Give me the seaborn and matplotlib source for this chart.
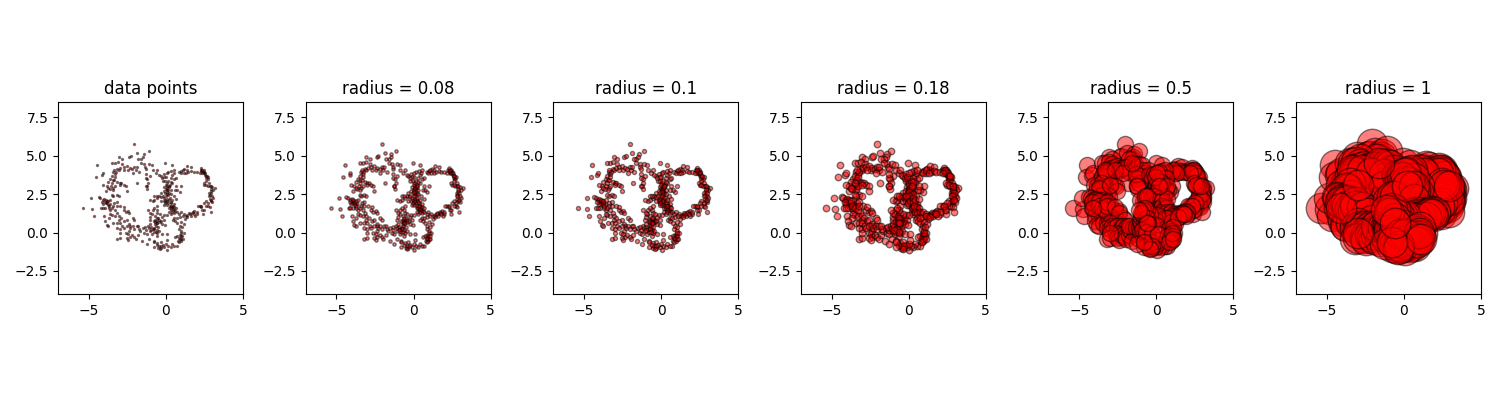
import numpy as np
import matplotlib
matplotlib.use("Agg")
import matplotlib.pyplot as plt
import seaborn as sns

titles = ["data points", "radius = 0.08", "radius = 0.1", "radius = 0.18", "radius = 0.5", "radius = 1"]
marker_sizes = [2, 5.5, 8.5, 22, 135, 480]

far_left = [(-5.38,1.6),(-4.78,1.53),(-4.67,1.08),(-4.84,2.28),(-4.47,4.4),(-4.56,3.6),(-4.15,3.75),(-4.1,3.85),
            (-2.05,5.74),(-3.05,4.94),(-2.38,4.9),(-2.29,5.0),(-1.88,5.16),(-1.43,5.1),(-1.49,4.9),(-1.6,4.77),
            (-1.12,5.31),(-1.79,4.77),(-2.85,4.77),(-0.05,4.5),(0.4,4.4)]
left_arc = [(-3.5,4.5),(-3.3,4.55),(-3.1,4.6),(-2.85,4.45),(-3.4,3.95),(-3.3,3.8),(-3.15,4.15),(-3.05,4.05),(-2.95,4.2),
            (-2.75,4.25),(-2.55,4.35),(-2.45,4.1),(-2.35,4.2),(-2.2,4.15),(-2.05,4.3),(-1.95,4.1),(-1.9,4.25),(-1.75,3.95),
            (-1.4,4.45),(-1.35,4.3),(-1.3,4.15),(-1.1,4.45),(-0.9,4.4),(-0.85,4.05),(-0.65,3.85),(-0.55,4.1),(-1.05,3.65),
            (-1.2,3.5),(-1.3,3.55),(-1.85,3.25),(-3.6,3.5),(-3.75,3.3),(-3.45,3.4),(-3.35,3.45),(-3.15,3.3),(-3.0,3.2),
            (-2.9,3.25),(-2.75,3.1),(-2.6,3.0),(-3.55,3.0),(-3.4,2.9),(-3.45,2.75),(-3.3,3.0),(-3.85,3.0),(-4.05,3.1),
            (-3.9,2.7),(-2.55,2.7),(-1.25,3.05),(-1.2,2.85),(-1.15,3.2),(-3.2,2.45),(-3.05,2.35),(-3.4,2.4),
            (-3.5,3.65),(-3.3,3.6),(-3.25,3.95),(-3.35,4.1),(-2.7,4.1),(-2.15,3.9),(-1.3,3.8),(-3.5,3.2),(-3.65,2.85),
            (-3.5,2.45),(-3.75,2.9),(-1.28,3.0)]
left_cluster = [(-4.35,2.33),(-4.25,2.25),(-4.1,2.15),(-3.98,2.0),(-3.9,1.9),(-3.78,1.8),(-4.05,1.85),(-3.85,2.05),
                (-3.65,1.85),(-3.6,1.45),(-3.5,1.15),(-3.6,2.1),(-3.35,1.95),(-4.2,1.6),(-3.95,1.6),(-3.7,1.6),
                (-3.4,1.7),(-3.15,1.3),(-2.95,1.7),(-2.75,1.45),(-2.6,1.35),(-2.45,1.4),(-3.6,1.2),(-3.3,1.1),(-3.05,1.05),
                (-4.0,1.1),(-3.7,0.95),(-3.95,0.75),(-3.85,0.5),(-3.75,0.45),(-3.45,0.6),(-3.2,0.65),(-3.05,0.85),
                (-2.9,0.95),(-2.7,0.75),(-2.55,0.85),(-2.15,0.95),(-2.4,0.55),
                (-4.0,2.2),(-3.9,2.1),(-3.8,1.95),(-4.15,2.0),(-3.75,2.05),(-3.7,1.75),(-3.5,1.6),(-3.3,1.5),
                (-3.2,2.0),(-3.2,1.7),(-2.7,1.65),(-2.4,1.3),(-2.05,0.85),(-3.0,0.6),(-2.35,0.4)]
low_left = [(-3.2,0.3),(-3.0,0.2),(-2.85,0.45),(-2.75,0.3),(-2.55,0.45),(-2.4,0.1),(-2.3,0.3),(-2.15,0.45),(-2.05,0.2),
            (-1.9,0.4),(-2.6,0.0),(-2.45,-0.1),(-2.35,-0.3),(-3.2,-0.45),(-3.0,-0.35),(-2.55,-0.35),(-2.45,-0.5),
            (-2.2,-0.15),(-2.05,-0.3),(-1.95,-0.45),(-1.8,-0.15),(-1.65,0.1),(-1.75,0.25),(-1.5,0.3),(-1.4,-0.05),
            (-1.25,-0.1),(-1.3,0.15),(-1.55,-0.55),(-1.1,-0.4),(-0.9,-0.1),(-0.8,-0.55),(-0.6,-0.25),(-0.55,-0.7),
            (-1.8,0.45),(-1.35,0.35),(-1.15,0.45)]
ring_right = [(0.85,3.95),(1.0,4.0),(1.15,3.9),(1.2,4.15),(1.35,4.05),(1.45,3.95),(1.4,4.35),(1.65,4.3),(1.65,4.0),(1.8,3.95),
              (2.0,3.95),(2.25,4.05),(2.3,4.2),(2.35,3.9),(2.45,4.1),(2.5,3.95),(2.55,3.75),(2.6,3.55),(2.7,3.5),(2.75,3.6),
              (2.6,3.35),(2.5,3.1),(2.8,3.2),(2.85,3.05),(3.0,2.95),(3.2,2.9),(3.05,2.75),(2.9,2.7),(2.8,2.6),(2.85,2.45),
              (3.0,2.4),(3.05,2.25),(2.85,2.2),(2.9,2.05),(3.0,2.0),(2.75,1.95),(2.75,1.75),(2.85,1.65),(2.6,1.75),(2.6,2.05),
              (2.2,1.7),(2.3,1.65),(2.05,1.75),(2.45,1.45),(2.4,1.2),(2.95,1.35),(2.35,1.5),
              (2.3,4.0),(2.4,3.95),(2.45,3.85),(2.55,3.9),(2.6,3.7),(2.65,3.65),(2.35,4.1),(2.2,3.85),(0.95,3.85),(1.1,4.1),
              (2.9,2.85),(2.95,2.6),(2.8,2.35),(2.95,2.15),(2.7,3.0),(1.3,3.85),
              (2.5,1.9),(2.3,1.75),(2.45,3.2),(2.6,3.1),(1.0,3.0),(0.9,2.65)]
ring_low = [(0.7,1.35),(0.85,1.2),(0.9,1.0),(0.95,1.35),(1.15,1.2),(1.3,1.05),(1.4,1.15),(1.5,1.3),(1.6,1.1),(1.75,1.35),
            (1.85,1.4),(2.0,1.2),(2.0,1.35),(1.9,1.05),(1.25,0.9),(1.1,1.05),(0.55,0.95),(0.45,0.85),(0.6,0.75),(0.75,0.6),
            (0.9,0.45),(1.0,0.7),(1.2,0.55),(1.55,1.2),(1.7,1.25),(0.7,0.95),(1.4,1.0),(1.8,1.2)]
center_col = [(-0.85,2.05),(-0.75,2.15),(-0.55,1.75),(-0.55,2.25),(-0.45,2.4),(-0.35,2.05),(-0.35,2.6),(-0.3,2.3),(-0.2,3.35),
              (-0.35,3.65),(-0.45,3.75),(-0.25,3.55),(-0.15,3.8),(-0.05,3.35),(0.0,3.6),(0.05,3.2),(0.1,3.0),(-0.1,2.95),
              (0.0,2.85),(-0.15,2.7),(-0.05,2.6),(0.05,2.75),(0.15,2.8),(0.2,2.6),(0.3,2.75),(0.1,2.5),(-0.1,2.25),
              (-0.15,2.05),(-0.05,2.15),(0.0,2.0),(0.1,2.2),(0.15,1.95),(0.2,2.1),(0.05,1.8),(-0.1,1.8),(0.25,1.75),
              (0.35,1.9),(0.4,1.65),(0.5,1.5),(0.45,1.75),(0.55,1.85),(0.6,1.4),(0.35,1.45),(0.2,1.35),(0.3,1.2),
              (0.55,3.5),(0.4,3.75),(0.5,3.9),(0.35,4.0),(0.3,3.55),(0.55,4.1),(0.15,3.95),(0.65,3.55),(0.75,2.8),
              (0.6,2.75),(0.4,3.2),(0.5,2.35),
              (0.0,3.1),(0.1,2.9),(0.2,2.95),(0.25,3.1),(0.05,2.65),(0.15,2.45),(0.3,2.5),(0.0,2.35),(-0.2,2.4),(-0.05,1.95),
              (0.1,2.05),(0.25,2.25),(0.3,2.0),(0.4,2.1),(0.2,1.6),(0.3,1.6),(0.45,1.55),(0.55,1.65),(0.35,1.75),(0.65,1.6),
              (0.4,1.35),(0.55,1.25),(0.15,3.35),(0.3,3.3),(-0.1,3.6),(0.05,3.85),
              (-1.05,2.1),(-0.75,2.4),(-0.6,2.35),(0.67,3.0),(0.67,2.2)]
center_low = [(-1.1,0.3),(-1.05,0.1),(-0.95,0.35),(-0.85,0.2),(-0.8,0.05),(-0.75,0.3),(-0.7,0.55),(-0.65,0.4),(-0.6,0.15),
              (-0.55,-0.05),(-0.5,0.35),(-0.45,0.1),(-1.0,0.55),(-1.05,0.8),(-1.0,1.0),(-0.9,1.2),(-0.8,0.75),(-0.7,1.05),
              (-0.7,0.85),(-0.6,0.75),(-0.55,1.3),(-0.5,0.95),(-0.45,0.8),(-0.4,0.7),(-0.3,0.75),(-0.25,1.0),(-0.15,1.15),
              (-0.1,0.8),(0.05,1.15),(-0.4,1.2),(-0.6,1.5),(-0.85,1.45),(-0.75,1.6),(-0.25,0.55),(-0.05,0.5),
              (-0.75,0.2),(-0.7,0.7),(-0.6,0.95),(-0.55,0.6),(-0.95,0.15),(-0.65,0.05),(-1.0,1.25),(-1.15,1.5)]
ring_bottom = [(0.85,0.25),(1.0,0.1),(1.15,0.0),(1.05,0.35),(0.9,-0.15),(0.95,-0.25),(0.75,-0.2),(0.85,-0.35),(1.0,-0.4),(1.05,-0.2),
               (0.8,-0.55),(0.95,-0.55),(0.7,-0.85),(0.6,-0.3),(0.55,-0.85),(0.4,-0.75),(0.3,-0.95),(0.15,-0.85),(0.05,-1.15),
               (-0.1,-0.95),(-0.2,-0.8),(-0.35,-1.0),(-0.5,-1.0),(-0.45,-0.85),(-0.6,-0.8),(-0.8,-0.95),(0.0,-0.75),(0.1,-0.5),
               (-0.35,-0.6),(-1.25,-0.75),(-0.25,-0.1),(0.1,-0.1),(0.9,-0.45),(0.85,-0.6),(1.0,-0.05),(-0.3,-0.9),(-0.4,-1.05)]
top_layer = [(-3.0,0.0),(-4.1,1.6),(-3.0,3.1),(-1.6,4.5),(0.2,3.0),(2.9,3.0),(1.1,-0.4),(-0.8,-0.6),(-0.6,0.6)]
point_groups = [far_left, left_arc, left_cluster, ring_right, center_col, low_left, ring_low, center_low, ring_bottom, top_layer]

points = np.array([p for group in point_groups for p in group])
xs, ys = points[:, 0], points[:, 1]

fig, axes = plt.subplots(1, 6, figsize=(15, 3.96), dpi=100)
fig.subplots_adjust(left=58/1500, right=1481/1500, top=1-102/396, bottom=1-294/396, wspace=0.3385)
for ax, title, size in zip(axes, titles, marker_sizes):
    sns.scatterplot(x=xs, y=ys, s=size, color="red", edgecolor="black", linewidth=1.0, alpha=0.5, legend=False, ax=ax)
    ax.set_title(title)
    ax.set_xlim(-7, 5)
    ax.set_ylim(-4, 8.5)
    ax.set_xticks([-5, 0, 5])
    ax.set_yticks([-2.5, 0.0, 2.5, 5.0, 7.5])
fig.savefig("out.png", dpi=100)
